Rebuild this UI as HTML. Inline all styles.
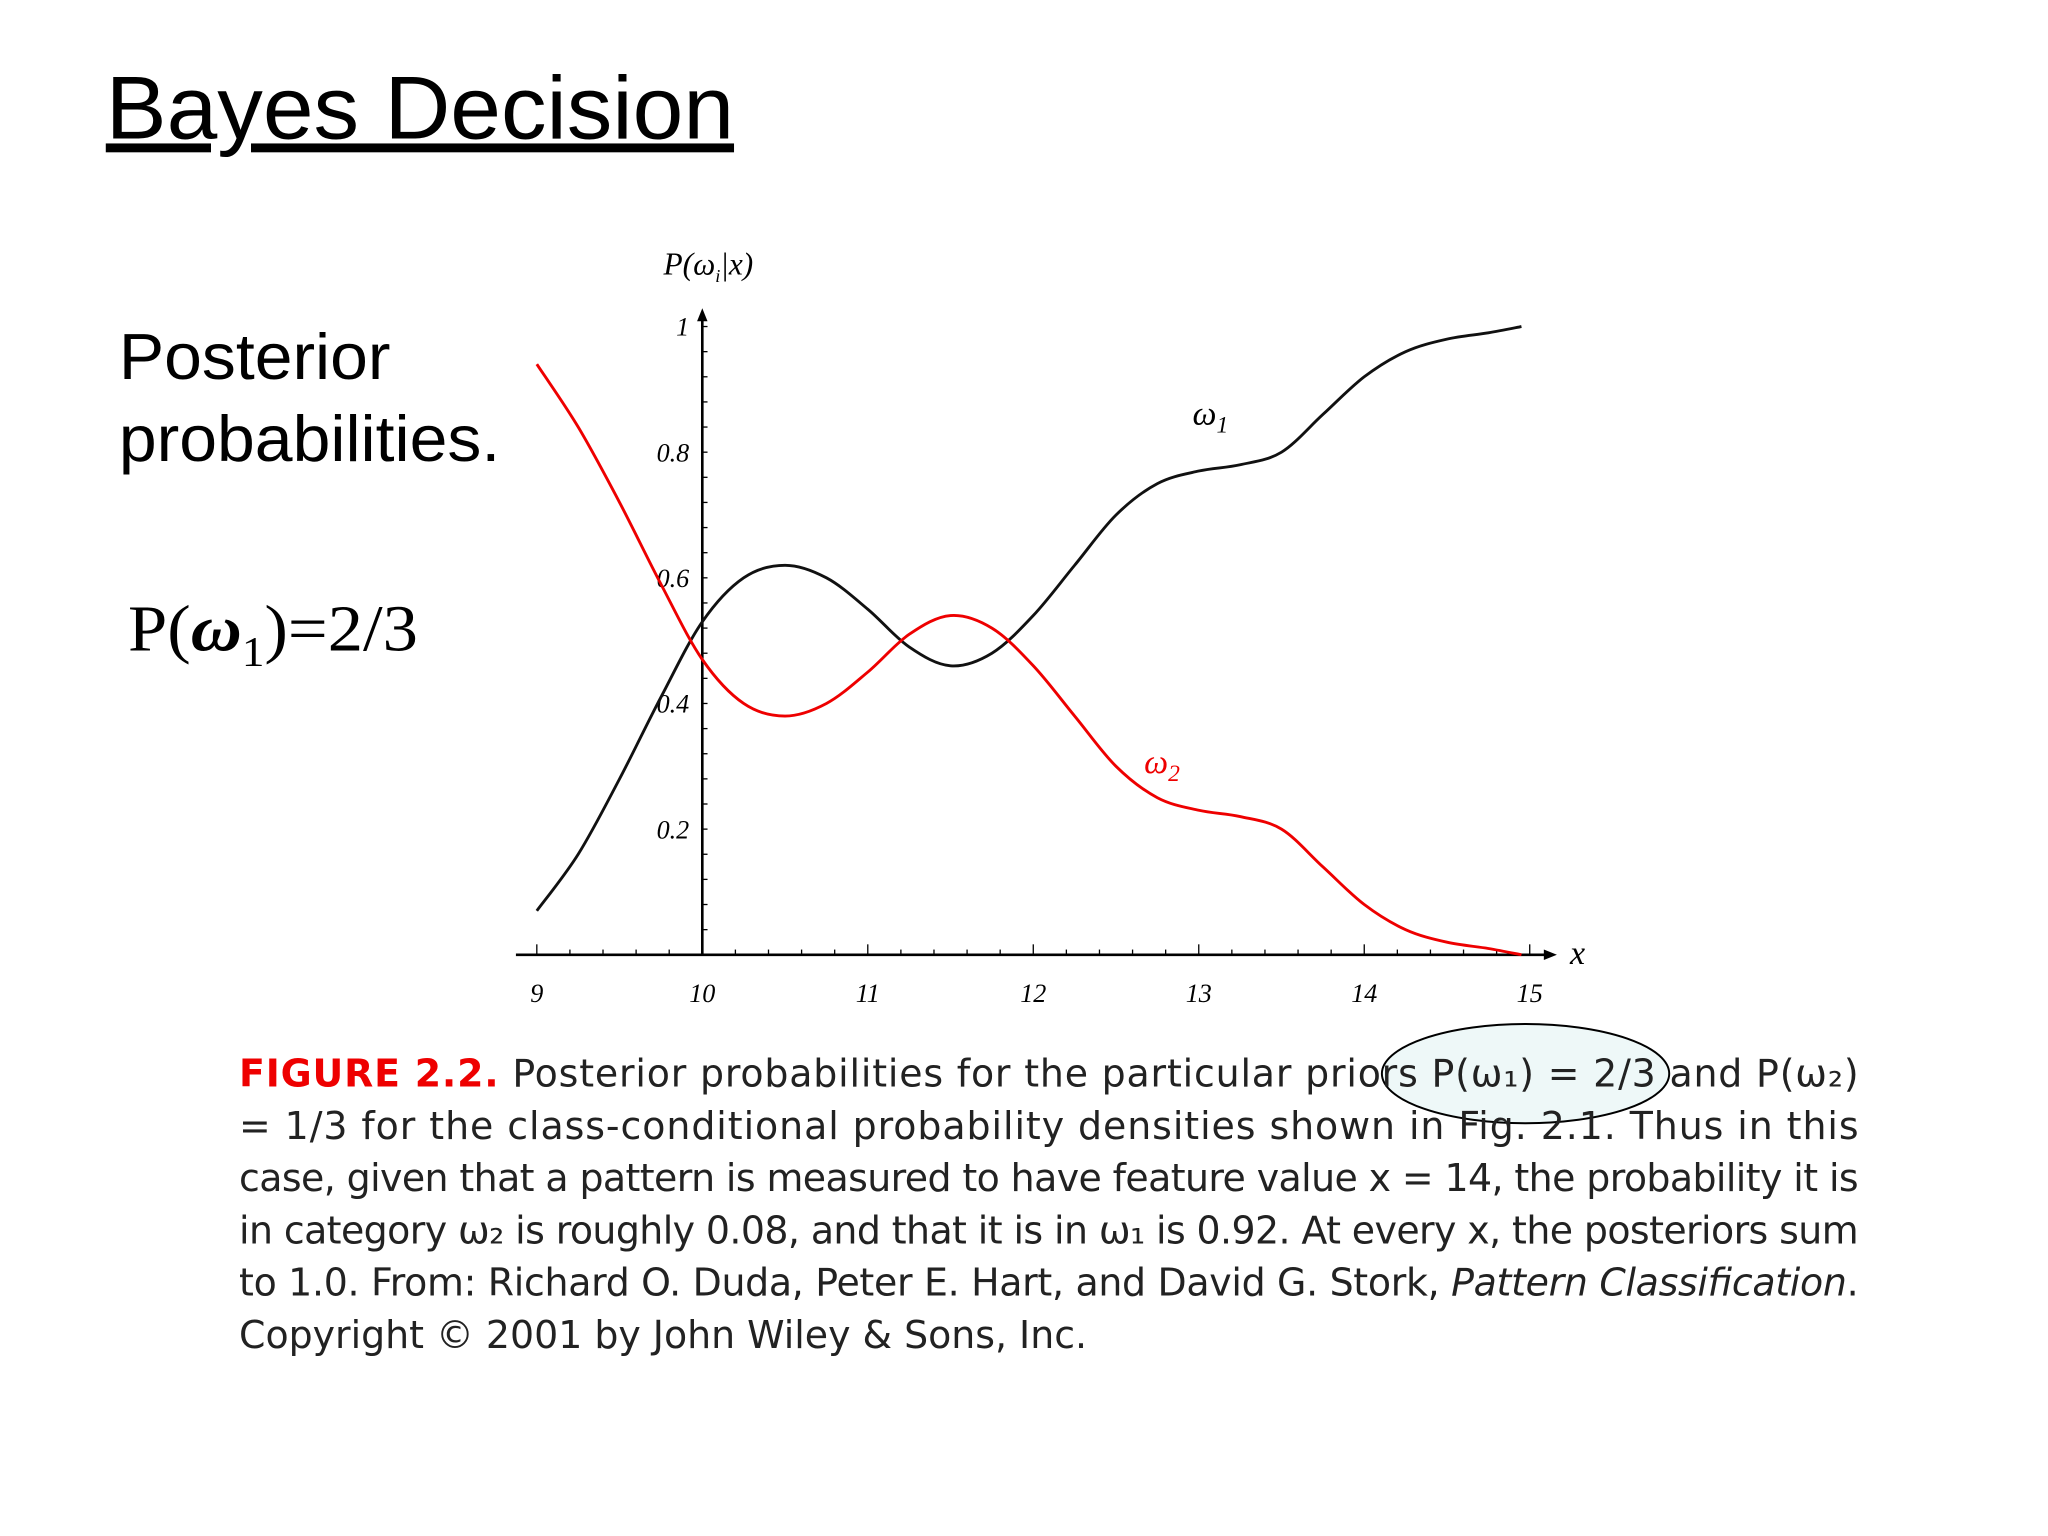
<!DOCTYPE html>
<html><head><meta charset="utf-8"><style>
html,body{margin:0;padding:0;background:#fff;}
svg{display:block;}
</style></head><body>
<svg id="chart" width="2048" height="1536" viewBox="0 0 1568 1176" xmlns="http://www.w3.org/2000/svg">
<rect width="1568" height="1176" fill="#fff"/>
<text x="81" y="106" font-family="Liberation Sans, sans-serif" font-size="68" fill="#000" text-decoration="underline" textLength="481" lengthAdjust="spacingAndGlyphs">Bayes Decision</text>
<text font-family="Liberation Sans, sans-serif" font-size="50" fill="#000"><tspan x="91" y="290" textLength="208" lengthAdjust="spacingAndGlyphs">Posterior</tspan><tspan x="91" y="353" textLength="292" lengthAdjust="spacingAndGlyphs">probabilities.</tspan></text>
<text x="98" y="498" font-family="Liberation Serif, serif" font-size="50" fill="#000" textLength="222" lengthAdjust="spacingAndGlyphs">P(<tspan font-style="italic" font-weight="bold">ω</tspan><tspan font-size="32" dy="12">1</tspan><tspan dy="-12">)=2/3</tspan></text>
<g id="axes" font-family="Liberation Serif, serif" font-style="italic" font-size="20"></g>
<g id="series"></g>
<text x="508" y="210" font-family="Liberation Serif, serif" font-style="italic" font-size="24">P(ω<tspan font-size="14" dy="6">i</tspan><tspan dy="-6">|x)</tspan></text>
<text x="1202" y="738" font-family="Liberation Serif, serif" font-style="italic" font-size="26">x</text>
<text x="913" y="325" font-family="Liberation Serif, serif" font-style="italic" font-size="26">ω<tspan font-size="18" dy="6">1</tspan></text>
<text x="876" y="592" fill="#e00" font-family="Liberation Serif, serif" font-style="italic" font-size="26">ω<tspan font-size="18" dy="6">2</tspan></text>
<ellipse cx="1168" cy="822" rx="110" ry="38" fill="#eef8f8" stroke="#000" stroke-width="1.5"/>
<g font-family="DejaVu Sans, Liberation Sans, sans-serif" font-size="29" fill="#222">
<text x="183" y="832" textLength="1240" lengthAdjust="spacing"><tspan fill="#e00" font-weight="bold">FIGURE 2.2.</tspan> Posterior probabilities for the particular priors P(ω₁) = 2/3 and P(ω₂)</text>
<text x="183" y="872" textLength="1240" lengthAdjust="spacing">= 1/3 for the class-conditional probability densities shown in Fig. 2.1. Thus in this</text>
<text x="183" y="912" textLength="1240" lengthAdjust="spacing">case, given that a pattern is measured to have feature value x = 14, the probability it is</text>
<text x="183" y="952" textLength="1240" lengthAdjust="spacing">in category ω₂ is roughly 0.08, and that it is in ω₁ is 0.92. At every x, the posteriors sum</text>
<text x="183" y="992" textLength="1240" lengthAdjust="spacing">to 1.0. From: Richard O. Duda, Peter E. Hart, and David G. Stork, <tspan font-style="italic">Pattern Classification</tspan>.</text>
<text x="183" y="1032">Copyright © 2001 by John Wiley &amp; Sons, Inc.</text>
</g>
</svg>
<script>
const xs = [9,9.25,9.5,9.75,10,10.25,10.5,10.75,11,11.25,11.5,11.75,12,12.25,12.5,12.75,13,13.25,13.5,13.75,14,14.25,14.5,14.75,14.95];
const w1 = [0.07,0.16,0.28,0.41,0.53,0.60,0.62,0.60,0.55,0.49,0.46,0.48,0.54,0.62,0.70,0.75,0.77,0.78,0.80,0.86,0.92,0.96,0.98,0.99,1.0];
const w2 = [0.94,0.84,0.72,0.59,0.47,0.40,0.38,0.40,0.45,0.51,0.54,0.52,0.46,0.38,0.30,0.25,0.23,0.22,0.20,0.14,0.08,0.04,0.02,0.01,0.0];
const xTicks = [9,10,11,12,13,14,15];
const yTicks = [0.2,0.4,0.6,0.8,1];
const yTickLabels = ["0.2","0.4","0.6","0.8","1"];
const NS = "http://www.w3.org/2000/svg";
const X = v => 411 + (v - 9) * 126.7;
const Y = v => 731 - v * 481;
const axes = document.getElementById('axes');
function mk(tag, attrs, parent){const e=document.createElementNS(NS,tag);for(const k in attrs)e.setAttribute(k,attrs[k]);parent.appendChild(e);return e;}
let l = mk('line',{x1:395,y1:Y(0),x2:1185,y2:Y(0),stroke:'#000','stroke-width':2},axes);


l = mk('line',{x1:X(10),y1:Y(0),x2:X(10),y2:Y(1)-10,stroke:'#000','stroke-width':2},axes);


mk('path',{d:`M1192 ${Y(0)} l-10 -4 v8z`,fill:'#000'},axes);
mk('path',{d:`M${X(10)} ${Y(1)-14} l-4 10 h8z`,fill:'#000'},axes);
for(let v=9; v<=15.001; v+=0.2){
  const big = Math.abs(v-Math.round(v))<1e-6;
  mk('line',{x1:X(v),y1:Y(0),x2:X(v),y2:Y(0)-(big?8:4),stroke:'#000','stroke-width':1},axes);
}
for(let v=0; v<=1.001; v+=0.04){
  mk('line',{x1:X(10),y1:Y(v),x2:X(10)+4,y2:Y(v),stroke:'#000','stroke-width':1},axes);
}
xTicks.forEach(t=>{
  const e=mk('text',{x:X(t),y:Y(0)+36,'text-anchor':'middle'},axes);
  e.textContent=t;
  
  
});
yTicks.forEach((t,i)=>{
  const e=mk('text',{x:X(10)-10,y:Y(t)+7,'text-anchor':'end'},axes);
  e.textContent=yTickLabels[i];
  
  
});
function smooth(ys){
  const p=xs.map((x,i)=>[X(x),Y(ys[i])]);
  let d=`M${p[0][0]} ${p[0][1]}`;
  for(let i=0;i<p.length-1;i++){
    const p0=p[Math.max(0,i-1)],p1=p[i],p2=p[i+1],p3=p[Math.min(p.length-1,i+2)];
    d+=` C${p1[0]+(p2[0]-p0[0])/6} ${p1[1]+(p2[1]-p0[1])/6} ${p2[0]-(p3[0]-p1[0])/6} ${p2[1]-(p3[1]-p1[1])/6} ${p2[0]} ${p2[1]}`;
  }
  return d;
}
const series=document.getElementById('series');
let s=mk('path',{d:smooth(w1),fill:'none',stroke:'#111','stroke-width':2.2},series);


s=mk('path',{d:smooth(w2),fill:'none',stroke:'#e00','stroke-width':2.2},series);


</script>
</body></html>
